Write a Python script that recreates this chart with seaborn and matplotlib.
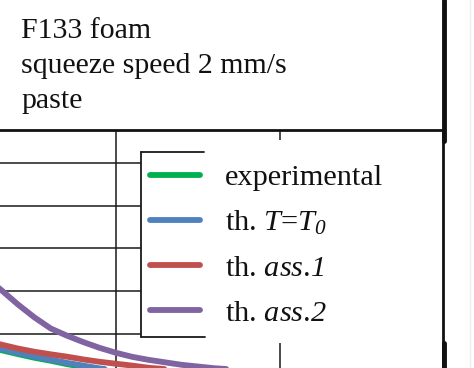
import pandas as pd
import matplotlib.pyplot as plt
import seaborn as sns
from matplotlib.patches import Rectangle
from matplotlib.lines import Line2D

# squeeze time and force (only the tail is visible)
time_s = [1.0, 1.5, 2.0, 2.5, 3.0, 3.5, 4.0, 4.5, 5.0, 5.5, 6.0, 7.0, 8.0, 9.0]
experimental = [7.4, 6.2, 5.3, 4.45, 3.75, 2.95, 2.3, 1.7, 1.3, 1.0, 0.8, 0.6, 0.5, 0.4]
th_T0 = [7.7, 6.5, 5.6, 4.75, 4.0, 3.25, 2.6, 1.95, 1.5, 1.2, 0.9, 0.7, 0.55, 0.45]
th_ass1 = [8.5, 7.5, 6.6, 5.85, 5.25, 4.7, 4.05, 3.5, 3.05, 2.6, 2.1, 1.5, 1.1, 0.8]
th_ass2 = [23.5, 20.2, 16.9, 13.9, 11.3, 9.6, 8.1, 6.75, 5.6, 4.65, 3.95, 2.8, 2.0, 1.5]

labels = ['experimental', r'th. $T$=$T_0$', r'th. $ass$.$1$', r'th. $ass$.$2$']
colors = ['#00b050', '#4f81bd', '#c0504d', '#8064a2']
info_lines = ['F133 foam', 'squeeze speed 2 mm/s', 'paste']

df = pd.DataFrame({'t': time_s, 'exp': experimental, 'T0': th_T0,
                   'ass1': th_ass1, 'ass2': th_ass2})

sns.set_theme(style='white')
plt.rcParams['font.family'] = ['Liberation Serif', 'DejaVu Serif']
# everything inside $...$ is italic (digits included)
plt.rcParams['mathtext.fontset'] = 'custom'
plt.rcParams['mathtext.rm'] = 'Liberation Serif:italic'
plt.rcParams['mathtext.it'] = 'Liberation Serif:italic'

W, H = 474, 368
fig = plt.figure(figsize=(W / 100, H / 100), dpi=100)


def fx(px):
    return px / W


def fy(py):
    return 1 - py / H


ax = fig.add_axes([0, 0, fx(443), (H - 130) / H])

# blue goes under the others, like in the original
order = [('T0', 1), ('exp', 0), ('ass1', 2), ('ass2', 3)]
handles = {}
for col, i in order:
    sns.lineplot(data=df, x='t', y=col, color=colors[i], lw=4.2, ax=ax,
                 label=labels[i], zorder=2 + i * 0.1)
    handles[i] = ax.lines[-1]

ax.set_xlim(1.45, 15)
ax.set_ylim(2.05, 57.7)
ax.set_xticks([5, 10])
ax.set_yticks([10, 20, 30, 40, 50])
ax.grid(True, color='#1a1a1a', lw=1.1)
ax.tick_params(length=0, labelbottom=False, labelleft=False)
ax.set_xlabel('')
ax.set_ylabel('')
for s in ['left', 'bottom']:
    ax.spines[s].set_visible(False)
for s in ['top', 'right']:
    ax.spines[s].set_color('#111111')
    ax.spines[s].set_linewidth(2)

# white legend area that hides the grid
ax.add_patch(Rectangle((fx(141), fy(343)), fx(443) - fx(141), fy(140) - fy(343),
                       transform=fig.transFigure, facecolor='white',
                       edgecolor='none', zorder=1.8))
for (x0, y0), (x1, y1) in [((141, 152), (204, 152)), ((141, 152), (141, 337)),
                           ((141, 337), (205, 337))]:
    ax.add_line(Line2D([fx(x0), fx(x1)], [fy(y0), fy(y1)], transform=fig.transFigure,
                       color='#1a1a1a', lw=1.3, zorder=3))

leg = ax.legend([handles[i] for i in range(4)], labels, loc='upper left',
                bbox_to_anchor=(fx(150), fy(164)), bbox_transform=fig.transFigure,
                frameon=False, fontsize=21.9, handlelength=1.63, handletextpad=0.82,
                labelspacing=0.58, borderpad=0, borderaxespad=0)
for t in leg.get_texts():
    t.set_color('#111111')

# heavy right border pieces and faint neighbouring edge
fig.add_artist(Line2D([fx(444), fx(444)], [fy(0), fy(141)], color='#111111', lw=3.5))
fig.add_artist(Line2D([fx(444), fx(444)], [fy(343), fy(368)], color='#111111', lw=3.5))
fig.add_artist(Line2D([fx(470), fx(470)], [0, 1], color='#ececec', lw=1))

for line, base in zip(info_lines, [38, 73, 108]):
    fig.text(fx(21), fy(base), line, fontsize=21.5, va='baseline', ha='left',
             color='#111111')

fig.savefig('out.png', dpi=100)
